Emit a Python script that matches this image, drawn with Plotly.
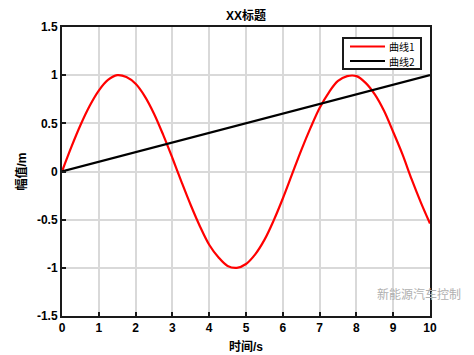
import plotly.graph_objects as go

x1 = [0, 0.25, 0.5, 0.75, 1, 1.25, 1.5, 1.75, 2, 2.25, 2.5, 2.75, 3, 3.25, 3.5, 3.75,
      4, 4.25, 4.5, 4.75, 5, 5.25, 5.5, 5.75, 6, 6.25, 6.5, 6.75, 7, 7.25, 7.5, 7.75,
      8, 8.25, 8.5, 8.75, 9, 9.25, 9.5, 9.75, 10]
y1 = [0, 0.25, 0.48, 0.68, 0.84, 0.95, 1.00, 0.98, 0.91, 0.78, 0.60, 0.38, 0.14, -0.11,
      -0.35, -0.57, -0.76, -0.89, -0.98, -1.00, -0.96, -0.86, -0.71, -0.51, -0.28, -0.03,
      0.22, 0.45, 0.66, 0.82, 0.94, 0.99, 0.99, 0.92, 0.80, 0.63, 0.41, 0.18, -0.08, -0.32, -0.54]
x2 = [0, 10]
y2 = [0, 1]
names = ["曲线1", "曲线2"]
colors = ["#ff0000", "#000000"]
xticks = list(range(0, 11))
yticks = [-1.5, -1, -0.5, 0, 0.5, 1, 1.5]
yticktext = ["-1.5", "-1", "-0.5", "0", "0.5", "1", "1.5"]

# plot-area geometry in pixels (for legend placement in paper coords)
L, R, T, B = 62, 430, 27, 316
def px(x): return (x - L) / (R - L)
def py(y): return (B - y) / (B - T)

fig = go.Figure()
fig.add_trace(go.Scatter(x=x1, y=y1, mode="lines", name=names[0], showlegend=False,
                         line=dict(color=colors[0], width=2.2, shape="spline")))
fig.add_trace(go.Scatter(x=x2, y=y2, mode="lines", name=names[1], showlegend=False,
                         line=dict(color=colors[1], width=2.2)))

axis_common = dict(showline=True, linecolor="#1a1a1a", linewidth=2, mirror=True,
                   ticks="inside", ticklen=4, tickwidth=2, tickcolor="#1a1a1a",
                   showgrid=True, gridcolor="#d9d9d9", gridwidth=1.5, zeroline=False,
                   automargin=False,
                   tickfont=dict(family="Liberation Sans", size=12, color="#000000", weight="bold"))

fig.update_layout(
    width=474, height=355,
    margin=dict(l=62, r=44, t=27, b=39),
    paper_bgcolor="white", plot_bgcolor="white",
    font=dict(family="Liberation Sans, Noto Sans CJK SC", color="#000"),
    title=dict(text="<b>XX标题</b>", x=(62 + 430) / 2 / 474, xanchor="center",
               y=1 - 16 / 355, yanchor="middle",
               font=dict(size=12, family="Liberation Sans, Noto Sans CJK SC")),
    xaxis=dict(range=[0, 10], tickvals=xticks, **axis_common,
               title=dict(text="<b>时间/s</b>", standoff=8,
                          font=dict(size=12, family="Liberation Sans, Noto Sans CJK SC"))),
    yaxis=dict(range=[-1.5, 1.5], tickvals=yticks, ticktext=yticktext, **axis_common,
               title=dict(text="<b>幅值/m</b>", standoff=8,
                          font=dict(size=12, family="Liberation Sans, Noto Sans CJK SC"))),
    showlegend=False,
)

# manual legend box (compact, like the reference)
fig.add_shape(type="rect", xref="paper", yref="paper",
              x0=px(343), x1=px(421), y0=py(69), y1=py(38),
              fillcolor="white", line=dict(color="#1a1a1a", width=2), layer="above")
for i, (nm, c) in enumerate(zip(names, colors)):
    yy = 46.5 + i * 14.5
    fig.add_shape(type="line", xref="paper", yref="paper",
                  x0=px(350), x1=px(385), y0=py(yy), y1=py(yy),
                  line=dict(color=c, width=2.2), layer="above")
    fig.add_annotation(text=nm, xref="paper", yref="paper", x=px(388), y=py(yy),
                       xanchor="left", yanchor="middle", showarrow=False,
                       borderpad=0,
                       font=dict(size=10, color="#000", family="Noto Sans CJK SC"))

fig.add_annotation(text="新能源汽车控制", xref="paper", yref="paper",
                   x=px(419), y=py(293), showarrow=False,
                   xanchor="center", yanchor="middle",
                   font=dict(size=12, color="#b0b0b0", family="Noto Sans CJK SC"))

fig.write_html("out.html")
